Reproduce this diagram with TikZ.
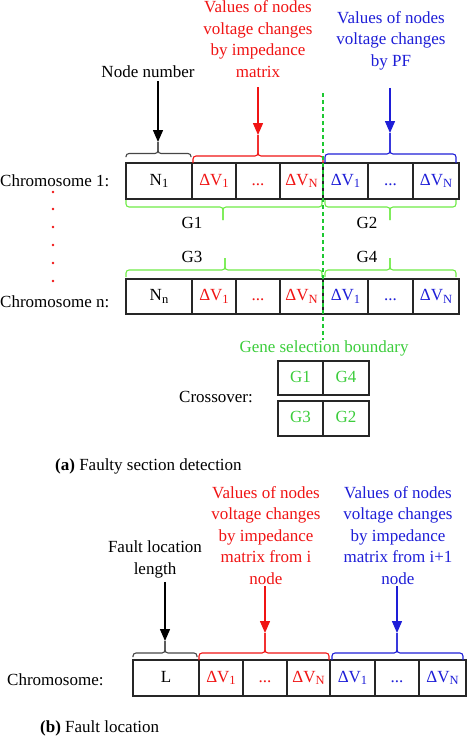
\documentclass[tikz,border=0pt]{standalone}
\usepackage{fontspec}
\setmainfont{Liberation Serif}
\usetikzlibrary{arrows.meta}
\definecolor{myred}{RGB}{240,20,20}
\definecolor{myblue}{RGB}{30,30,215}
\definecolor{gtext}{RGB}{60,205,60}
\definecolor{gbrk}{RGB}{110,235,70}
\definecolor{gdash}{RGB}{30,200,50}
\definecolor{bbrk}{RGB}{70,70,70}
\newcommand\subs[1]{\raisebox{-0.35ex}{\fontsize{12.5}{12.5}\selectfont #1}}
% colour, x1, xm, x2, yend, yline, ytip
\newcommand\mybrace[7]{%
  \draw[#1, line width=1.1pt, rounded corners=3pt] (#2,#5) |- (#3,#6) -- (#3,#7);
  \draw[#1, line width=1.1pt, rounded corners=3pt] (#3,#7) -- (#3,#6) -| (#4,#5);}
\begin{document}
\begin{tikzpicture}[x=1pt,y=-1pt,
  every node/.style={font=\fontsize{17}{21.5}\selectfont},
  cell/.style={draw=black!85, line width=1.1pt, inner sep=0pt, minimum height=36pt, text height=11.5pt, text depth=3pt},
  arr/.style={-{Triangle[length=12pt,width=10pt]}, line width=1.4pt},
  lbl/.style={align=center, inner sep=0pt}]
\useasboundingbox (0,0) rectangle (474,737);

% ---------- (a) ----------
% texts
\node[lbl, anchor=base] (nn) at (148,77) {Node number};
\node[lbl, anchor=base, text=myred] (rtxt) at (258,77) {Values of nodes\\voltage changes\\by impedance\\matrix};
\node[lbl, anchor=base, text=myblue] (btxt) at (391,66) {Values of nodes\\voltage changes\\by PF};

% chromosome 1
\node[lbl, anchor=base west] (c1) at (0,186) {Chromosome 1:};
\node[cell, minimum width=66pt] (a1) at (159,181) {N\subs{1}};
\node[cell, minimum width=44pt, text=myred] (a2) at (214,181) {ΔV\subs{1}};
\node[cell, minimum width=44pt, text=myred] (a3) at (258,181) {...};
\node[cell, minimum width=43pt, text=myred] (a4) at (301.5,181) {ΔV\subs{N}};
\node[cell, minimum width=45pt, text=myblue] (a5) at (345.5,181) {ΔV\subs{1}};
\node[cell, minimum width=45pt, text=myblue] (a6) at (390.5,181) {...};
\node[cell, minimum width=46pt, text=myblue] (a7) at (436,181) {ΔV\subs{N}};

% upper brackets
\mybrace{bbrk}{126}{158}{191}{157}{153.5}{142}
\mybrace{myred}{193}{258}{323}{163}{156}{135}
\mybrace{myblue}{325}{390}{456}{163}{154}{133}
\coordinate (tipk) at (158,142);
\coordinate (tipr) at (258,135);
\coordinate (tipb) at (390,133);
\draw[arr, black, shorten <=4pt] (nn.south -| tipk) -- (tipk);
\draw[arr, myred, shorten <=10pt] (rtxt.south -| tipr) -- (tipr);
\draw[arr, myblue, shorten <=18pt] (btxt.south -| tipb) -- (tipb);

% G brackets
\mybrace{gbrk}{126}{223}{322}{200}{207}{220}
\mybrace{gbrk}{325}{390}{456}{200}{207}{220}
\node[lbl] (g1) at (192,223) {G1};
\node[lbl] (g2) at (367,223) {G2};
\node[lbl] (g3) at (192,257) {G3};
\node[lbl] (g4) at (367,257) {G4};
\mybrace{gbrk}{126}{225}{322}{277}{270}{258}
\mybrace{gbrk}{325}{390}{456}{277}{270}{258}

% dots
\foreach \yy in {192,209,227,245,263,281}
  \fill[myred] (53,\yy) circle (1.4pt);

% chromosome n
\node[lbl, anchor=base west] (cn) at (0,307) {Chromosome n:};
\node[cell, minimum height=35pt, minimum width=66pt] (b1) at (159,296.5) {N\subs{n}};
\node[cell, minimum height=35pt, minimum width=44pt, text=myred] (b2) at (214,296.5) {ΔV\subs{1}};
\node[cell, minimum height=35pt, minimum width=44pt, text=myred] (b3) at (258,296.5) {...};
\node[cell, minimum height=35pt, minimum width=43pt, text=myred] (b4) at (301.5,296.5) {ΔV\subs{N}};
\node[cell, minimum height=35pt, minimum width=45pt, text=myblue] (b5) at (345.5,296.5) {ΔV\subs{1}};
\node[cell, minimum height=35pt, minimum width=45pt, text=myblue] (b6) at (390.5,296.5) {...};
\node[cell, minimum height=35pt, minimum width=46pt, text=myblue] (b7) at (436,296.5) {ΔV\subs{N}};

% gene selection boundary
\node[lbl, text=gtext] (gsb) at (324,348) {Gene selection boundary};
\coordinate (gtop) at (323,93);
\draw[gdash, line width=1.8pt, dash pattern=on 4pt off 3pt] (gtop) -- (gsb.north -| gtop);

% crossover
\node[lbl] (cr) at (216,397) {Crossover:};
\node[cell, minimum height=34pt, minimum width=45pt, text=gtext] (x1) at (300.5,378) {G1};
\node[cell, minimum height=34pt, minimum width=46pt, text=gtext] (x2) at (346,378) {G4};
\node[cell, minimum height=35pt, minimum width=45pt, text=gtext] (x3) at (300.5,418.5) {G3};
\node[cell, minimum height=35pt, minimum width=46pt, text=gtext] (x4) at (346,418.5) {G2};

\node[lbl, anchor=base west] (capa) at (55,470) {\textbf{(a)} Faulty section detection};

% ---------- (b) ----------
\node[lbl, anchor=base] (fl) at (155,574) {Fault location\\length};
\node[lbl, anchor=base, text=myred] (rtxt2) at (266,584) {Values of nodes\\voltage changes\\by impedance\\matrix from i\\node};
\node[lbl, anchor=base, text=myblue] (btxt2) at (398,584) {Values of nodes\\voltage changes\\by impedance\\matrix from i+1\\node};

\node[lbl, anchor=base west] (cb) at (7,685) {Chromosome:};
\node[cell, minimum width=66pt] (d1) at (166,678) {L};
\node[cell, minimum width=44pt, text=myred] (d2) at (221,678) {ΔV\subs{1}};
\node[cell, minimum width=44pt, text=myred] (d3) at (265,678) {...};
\node[cell, minimum width=43pt, text=myred] (d4) at (308.5,678) {ΔV\subs{N}};
\node[cell, minimum width=45pt, text=myblue] (d5) at (352.5,678) {ΔV\subs{1}};
\node[cell, minimum width=44pt, text=myblue] (d6) at (397,678) {...};
\node[cell, minimum width=47pt, text=myblue] (d7) at (442.5,678) {ΔV\subs{N}};

\mybrace{bbrk}{133}{165}{197}{657}{653}{641}
\mybrace{myred}{199}{265}{329}{660}{653}{633}
\mybrace{myblue}{332}{397}{463}{660}{653}{633}
\coordinate (tipk2) at (165,641);
\coordinate (tipr2) at (265,633);
\coordinate (tipb2) at (397,633);
\draw[arr, black, shorten <=4pt] (fl.south -| tipk2) -- (tipk2);
\draw[arr, myred, shorten <=2pt] (rtxt2.south -| tipr2) -- (tipr2);
\draw[arr, myblue, shorten <=2pt] (btxt2.south -| tipb2) -- (tipb2);

\node[lbl, anchor=base west] (capb) at (40,732) {\textbf{(b)} Fault location};
\end{tikzpicture}
\end{document}
